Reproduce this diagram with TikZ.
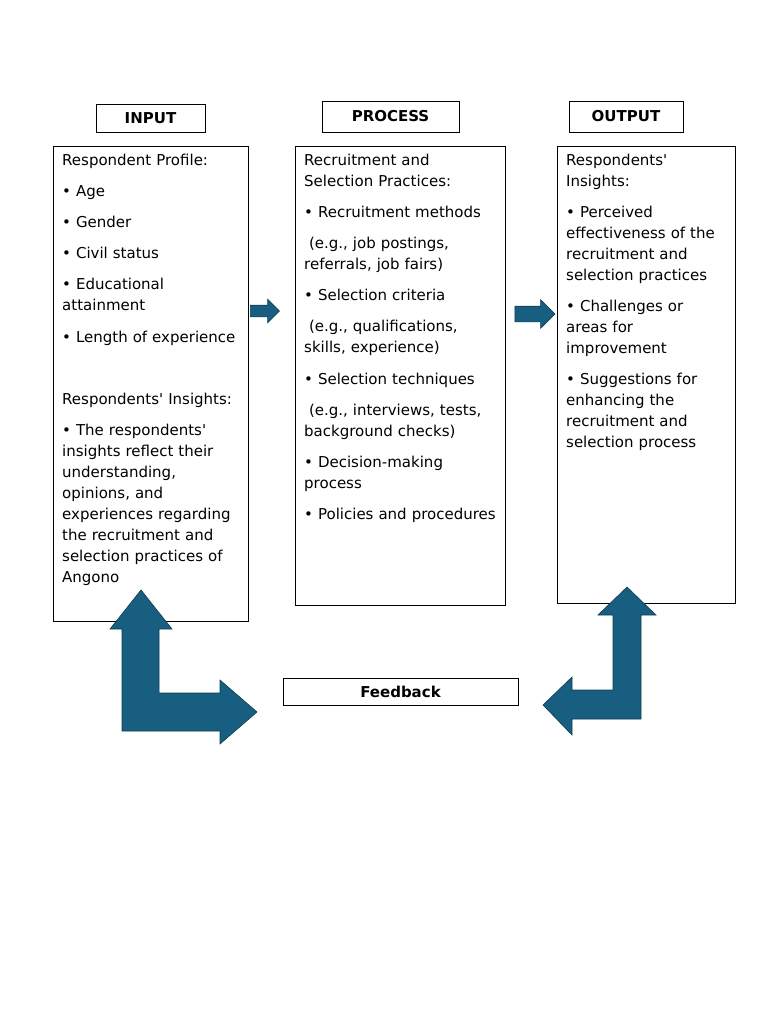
\documentclass[tikz,border=0pt]{standalone}
\usepackage{fontspec}
\setmainfont{DejaVu Sans}[Ligatures=TeXOff]
\usepackage{xcolor}
\usetikzlibrary{shapes.arrows}
\definecolor{arrowblue}{RGB}{23,94,128}
\definecolor{arrowedge}{RGB}{15,60,82}
\newcommand{\bodyfont}{\fontsize{15}{21}\selectfont}
\tikzset{
  panel/.style={draw, line width=0.9pt, anchor=north west, inner sep=0pt},
  heading/.style={draw, line width=0.9pt, font=\bodyfont\bfseries, inner sep=0pt},
  bodytext/.style={anchor=north west, inner sep=0pt, align=left, text width=#1},
  flowarrow/.style={single arrow, fill=arrowblue, draw=arrowedge, line width=0.6pt,
    inner xsep=0pt, inner ysep=#1, single arrow tip angle=90},
  bigarrow/.style={fill=arrowblue, draw=arrowedge, line width=0.6pt, line join=miter}
}
\begin{document}
\begin{tikzpicture}[x=1pt, y=-1pt, font=\bodyfont]
        \useasboundingbox (0,0) rectangle (768,1024);
        % Headings
        \node[heading, minimum width=109, minimum height=28] (input) at (150.5,118) {INPUT};
        \node[heading, minimum width=137, minimum height=31] (process) at (390.5,116.5) {PROCESS};
        \node[heading, minimum width=114, minimum height=31] (output) at (626,116.5) {OUTPUT};
        % Boxes
        \node[panel, minimum width=195, minimum height=475] (inputbox) at (53,146) {};
        \node[panel, minimum width=210, minimum height=459] (processbox) at (295,146) {};
        \node[panel, minimum width=178, minimum height=457] (outputbox) at (557,146) {};
        % Input text
        \node[bodytext=185] (inputtext) at ([xshift=9pt, yshift=-7.5pt]inputbox.north west) {%
          Respondent Profile:\\[10.2pt]
          • Age\\[10.2pt]
          • Gender\\[10.2pt]
          • Civil status\\[10.2pt]
          • Educational\\ attainment\\[10.2pt]
          • Length of experience\\[41.2pt]
          Respondents' Insights:\\[10.2pt]
          • The respondents'\\ insights reflect their\\ understanding,\\ opinions, and\\
          experiences regarding\\ the recruitment and\\ selection practices of\\ Angono};
        % Process text
        \node[bodytext=200] (processtext) at ([xshift=9pt, yshift=-7.5pt]processbox.north west) {%
          Recruitment and\\ Selection Practices:\\[10.2pt]
          • Recruitment methods\\[10.2pt]
          \hspace*{4.8pt}(e.g., job postings,\\ referrals, job fairs)\\[10.2pt]
          • Selection criteria\\[10.2pt]
          \hspace*{4.8pt}(e.g., qualifications,\\ skills, experience)\\[10.2pt]
          • Selection techniques\\[10.2pt]
          \hspace*{4.8pt}(e.g., interviews, tests,\\ background checks)\\[10.2pt]
          • Decision-making\\ process\\[10.2pt]
          • Policies and procedures};
        % Output text
        \node[bodytext=168] (outputtext) at ([xshift=9pt, yshift=-7.5pt]outputbox.north west) {%
          Respondents'\\ Insights:\\[10.2pt]
          • Perceived\\ effectiveness of the\\ recruitment and\\ selection practices\\[10.2pt]
          • Challenges or\\ areas for\\ improvement\\[10.2pt]
          • Suggestions for\\ enhancing the\\ recruitment and\\ selection process};
        % Flow arrows
        \node[flowarrow=5.5pt, single arrow head extend=6pt, minimum height=29] (arrowa) at (262,311) {};
        \node[flowarrow=7.5pt, single arrow head extend=6.5pt, minimum height=40] (arrowb) at (531,314) {};
        % Feedback
        \node[heading, minimum width=235, minimum height=27] (feedback) at (400.5,691.5) {Feedback};
        \draw[bigarrow] (141,590) -- (172,629) -- (159,629) -- (159,693) -- (220,693) -- (220,680)
          -- (257,712) -- (220,744) -- (220,731) -- (122,731) -- (122,629) -- (110,629) -- cycle;
        \draw[bigarrow] (627,587) -- (656,615) -- (641,615) -- (641,719) -- (572,719) -- (572,735)
          -- (543,705) -- (572,677) -- (572,690) -- (613,690) -- (613,615) -- (598,615) -- cycle;
\end{tikzpicture}
\end{document}
